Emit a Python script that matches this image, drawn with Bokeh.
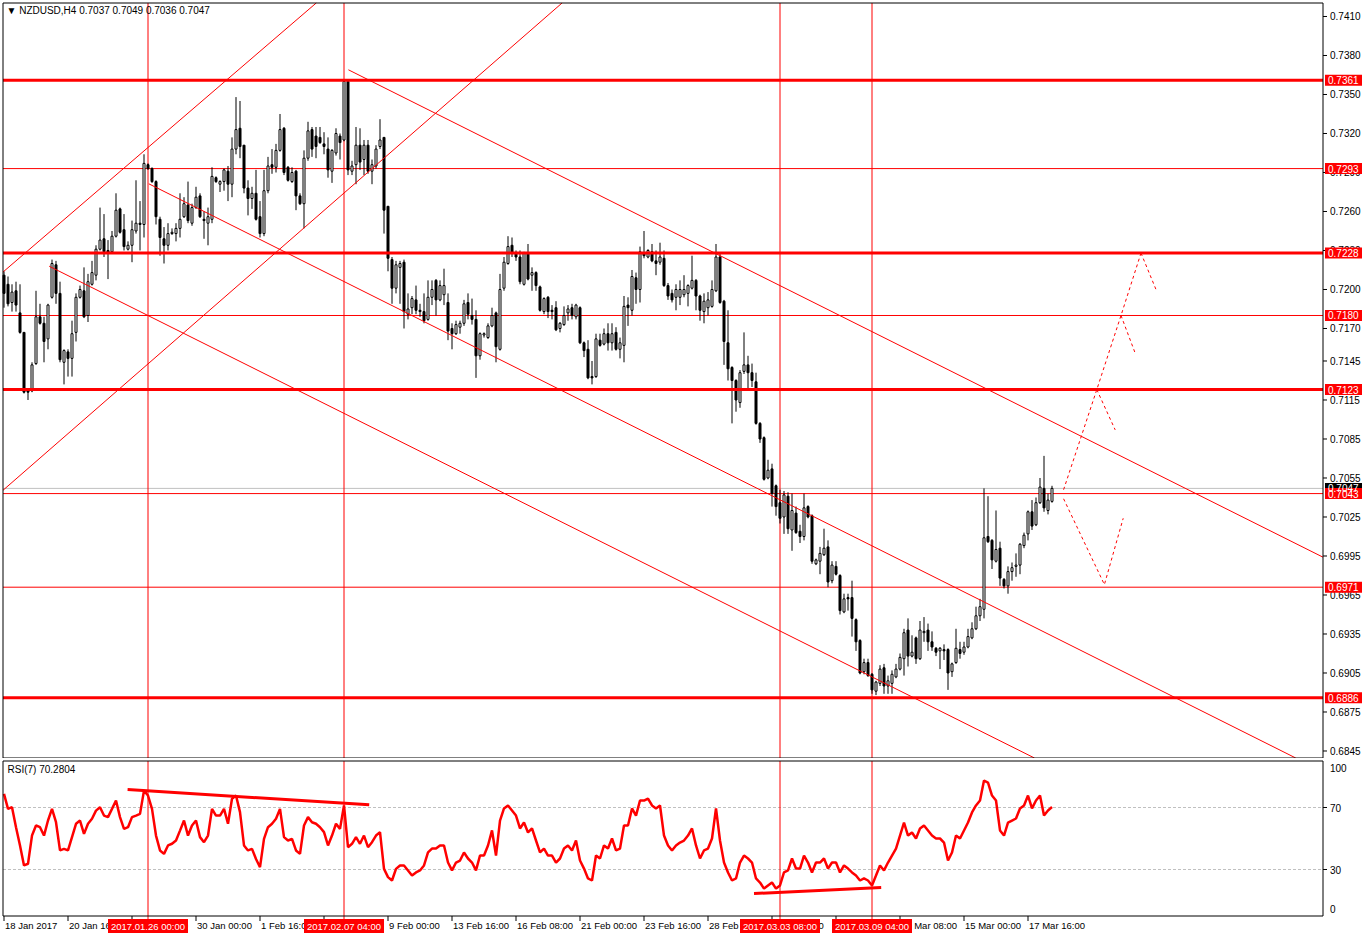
import numpy as np
from bokeh.plotting import figure
from bokeh.models import Range1d
from bokeh.layouts import column
from bokeh.embed import file_html
from bokeh.resources import INLINE
from bokeh.core.properties import value

# ---------------- data (NZDUSD H4, bar index 0 = 18 Jan 2017 00:00) ----------------
opens = [
0.7211,0.7204,0.7190,0.7199,0.7182,0.7167,0.7123,0.7122,0.7143,0.7179,
0.7174,0.7162,0.7194,0.7219,0.7197,0.7144,0.7152,0.7147,0.7167,0.7194,
0.7199,0.7180,0.7204,0.7211,0.7231,0.7239,0.7230,0.7229,0.7241,0.7262,
0.7246,0.7231,0.7234,0.7245,0.7251,0.7250,0.7296,0.7293,0.7283,0.7254,
0.7239,0.7234,0.7243,0.7243,0.7247,0.7256,0.7265,0.7251,0.7263,0.7272,
0.7254,0.7251,0.7254,0.7286,0.7281,0.7283,0.7291,0.7281,0.7308,0.7324,
0.7311,0.7278,0.7270,0.7274,0.7256,0.7243,0.7276,0.7296,0.7294,0.7307,
0.7324,0.7294,0.7283,0.7291,0.7272,0.7266,0.7301,0.7323,0.7318,0.7317,
0.7312,0.7308,0.7291,0.7305,0.7318,0.7315,0.7360,0.7291,0.7296,0.7311,
0.7300,0.7311,0.7291,0.7295,0.7310,0.7317,0.7264,0.7223,0.7201,0.7217,
0.7221,0.7181,0.7186,0.7192,0.7184,0.7183,0.7177,0.7194,0.7207,0.7192,
0.7196,0.7190,0.7170,0.7166,0.7171,0.7174,0.7190,0.7180,0.7177,0.7149,
0.7165,0.7163,0.7172,0.7182,0.7154,0.7201,0.7220,0.7234,0.7228,0.7225,
0.7204,0.7228,0.7211,0.7213,0.7202,0.7183,0.7194,0.7184,0.7186,0.7170,
0.7173,0.7182,0.7186,0.7179,0.7186,0.7159,0.7154,0.7133,0.7133,0.7161,
0.7158,0.7166,0.7159,0.7167,0.7154,0.7157,0.7188,0.7184,0.7209,0.7200,
0.7228,0.7225,0.7229,0.7222,0.7221,0.7224,0.7203,0.7197,0.7194,0.7194,
0.7196,0.7197,0.7201,0.7207,0.7195,0.7183,0.7186,0.7187,0.7199,0.7225,
0.7191,0.7159,0.7140,0.7130,0.7113,0.7137,0.7142,0.7136,0.7129,0.7097,
0.7086,0.7055,0.7062,0.7049,0.7036,0.7025,0.7041,0.7015,0.7028,0.7014,
0.7010,0.7033,0.7026,0.6989,0.6991,0.6996,0.7002,0.6976,0.6987,0.6980,
0.6952,0.6963,0.6963,0.6946,0.6930,0.6906,0.6913,0.6904,0.6891,0.6897,
0.6909,0.6895,0.6897,0.6902,0.6908,0.6916,0.6938,0.6918,0.6932,0.6916,
0.6936,0.6938,0.6929,0.6924,0.6922,0.6923,0.6923,0.6906,0.6913,0.6923,
0.6921,0.6925,0.6932,0.6939,0.6949,0.6954,0.7010,0.7007,0.6991,0.7001,
0.6977,0.6972,0.6983,0.6987,0.6988,0.7003,0.7012,0.7029,0.7019,0.7036,
0.7047,0.7030,0.7037]

highs = [
0.7214,0.7210,0.7204,0.7206,0.7204,0.7167,0.7124,0.7144,0.7199,0.7189,
0.7179,0.7189,0.7223,0.7222,0.7206,0.7154,0.7154,0.7176,0.7197,0.7203,
0.7217,0.7212,0.7222,0.7234,0.7263,0.7258,0.7238,0.7245,0.7274,0.7263,
0.7258,0.7237,0.7253,0.7284,0.7268,0.7304,0.7297,0.7294,0.7284,0.7256,
0.7248,0.7251,0.7247,0.7251,0.7274,0.7271,0.7283,0.7266,0.7279,0.7274,
0.7260,0.7263,0.7294,0.7287,0.7284,0.7293,0.7295,0.7317,0.7348,0.7345,
0.7311,0.7284,0.7279,0.7292,0.7268,0.7292,0.7302,0.7308,0.7312,0.7335,
0.7325,0.7295,0.7294,0.7292,0.7274,0.7307,0.7329,0.7325,0.7325,0.7325,
0.7321,0.7317,0.7308,0.7324,0.7320,0.7361,0.7361,0.7299,0.7325,0.7324,
0.7315,0.7315,0.7300,0.7311,0.7331,0.7317,0.7264,0.7225,0.7222,0.7222,
0.7223,0.7197,0.7195,0.7203,0.7189,0.7197,0.7207,0.7207,0.7208,0.7207,
0.7216,0.7197,0.7174,0.7176,0.7176,0.7192,0.7197,0.7193,0.7184,0.7167,
0.7167,0.7174,0.7186,0.7183,0.7212,0.7225,0.7241,0.7240,0.7230,0.7230,
0.7229,0.7235,0.7217,0.7214,0.7203,0.7194,0.7195,0.7188,0.7191,0.7175,
0.7187,0.7188,0.7189,0.7189,0.7187,0.7160,0.7161,0.7145,0.7166,0.7166,
0.7170,0.7174,0.7174,0.7171,0.7163,0.7195,0.7194,0.7215,0.7213,0.7233,
0.7245,0.7231,0.7235,0.7230,0.7236,0.7230,0.7205,0.7200,0.7204,0.7207,
0.7211,0.7204,0.7226,0.7208,0.7196,0.7197,0.7198,0.7207,0.7235,0.7228,
0.7192,0.7184,0.7141,0.7131,0.7138,0.7167,0.7149,0.7143,0.7136,0.7098,
0.7087,0.7069,0.7066,0.7050,0.7046,0.7045,0.7044,0.7043,0.7033,0.7019,
0.7043,0.7034,0.7027,0.6993,0.7002,0.7016,0.7007,0.6991,0.6991,0.6981,
0.6966,0.6966,0.6976,0.6947,0.6931,0.6916,0.6916,0.6905,0.6899,0.6911,
0.6912,0.6903,0.6907,0.6912,0.6920,0.6939,0.6947,0.6934,0.6933,0.6945,
0.6948,0.6943,0.6937,0.6925,0.6925,0.6927,0.6924,0.6913,0.6939,0.6929,
0.6929,0.6939,0.6944,0.6956,0.6962,0.7047,0.7041,0.7008,0.7030,0.7006,
0.6978,0.6987,0.6990,0.6997,0.7005,0.7013,0.7030,0.7038,0.7040,0.7055,
0.7072,0.7043,0.7049]

lows = [
0.7186,0.7187,0.7183,0.7183,0.7166,0.7120,0.7115,0.7121,0.7142,0.7173,
0.7144,0.7154,0.7193,0.7189,0.7144,0.7127,0.7133,0.7133,0.7160,0.7193,
0.7178,0.7175,0.7203,0.7207,0.7230,0.7225,0.7208,0.7228,0.7240,0.7243,
0.7230,0.7230,0.7221,0.7243,0.7230,0.7240,0.7292,0.7282,0.7250,0.7226,
0.7220,0.7230,0.7242,0.7237,0.7240,0.7255,0.7251,0.7249,0.7262,0.7255,
0.7239,0.7234,0.7251,0.7282,0.7275,0.7276,0.7268,0.7271,0.7304,0.7301,
0.7274,0.7257,0.7262,0.7253,0.7240,0.7241,0.7274,0.7289,0.7290,0.7306,
0.7288,0.7283,0.7282,0.7261,0.7265,0.7247,0.7299,0.7302,0.7301,0.7312,
0.7304,0.7286,0.7282,0.7303,0.7300,0.7314,0.7288,0.7288,0.7281,0.7292,
0.7288,0.7289,0.7281,0.7293,0.7308,0.7243,0.7214,0.7189,0.7197,0.7189,
0.7170,0.7177,0.7181,0.7181,0.7179,0.7174,0.7176,0.7188,0.7180,0.7191,
0.7188,0.7161,0.7154,0.7165,0.7166,0.7172,0.7177,0.7173,0.7132,0.7146,
0.7163,0.7162,0.7171,0.7144,0.7153,0.7199,0.7219,0.7225,0.7222,0.7204,
0.7203,0.7207,0.7199,0.7199,0.7183,0.7181,0.7178,0.7177,0.7168,0.7167,
0.7172,0.7176,0.7177,0.7177,0.7158,0.7148,0.7131,0.7127,0.7132,0.7156,
0.7157,0.7153,0.7153,0.7153,0.7147,0.7144,0.7172,0.7180,0.7189,0.7190,
0.7224,0.7224,0.7221,0.7211,0.7219,0.7202,0.7192,0.7190,0.7184,0.7188,
0.7194,0.7187,0.7200,0.7184,0.7176,0.7174,0.7180,0.7186,0.7198,0.7189,
0.7142,0.7130,0.7097,0.7106,0.7109,0.7135,0.7122,0.7125,0.7096,0.7082,
0.7053,0.7054,0.7033,0.7026,0.7020,0.7012,0.7012,0.6999,0.7012,0.7005,
0.7007,0.7024,0.6989,0.6988,0.6981,0.6995,0.6971,0.6974,0.6980,0.6950,
0.6951,0.6953,0.6933,0.6922,0.6904,0.6904,0.6902,0.6889,0.6888,0.6895,
0.6889,0.6889,0.6889,0.6901,0.6907,0.6903,0.6910,0.6917,0.6912,0.6915,
0.6929,0.6922,0.6922,0.6918,0.6908,0.6915,0.6892,0.6902,0.6912,0.6916,
0.6919,0.6924,0.6931,0.6938,0.6945,0.6947,0.7005,0.6985,0.6990,0.6972,
0.6970,0.6966,0.6976,0.6979,0.6981,0.7001,0.7007,0.7015,0.7018,0.7035,
0.7029,0.7027,0.7036]

closes = [
0.7197,0.7189,0.7198,0.7188,0.7167,0.7121,0.7121,0.7142,0.7179,0.7174,
0.7160,0.7188,0.7220,0.7197,0.7146,0.7153,0.7147,0.7166,0.7194,0.7200,
0.7179,0.7206,0.7213,0.7231,0.7238,0.7229,0.7228,0.7241,0.7261,0.7244,
0.7233,0.7234,0.7246,0.7251,0.7250,0.7297,0.7293,0.7283,0.7256,0.7240,
0.7234,0.7243,0.7244,0.7247,0.7254,0.7266,0.7253,0.7263,0.7271,0.7256,
0.7253,0.7256,0.7287,0.7283,0.7283,0.7292,0.7281,0.7308,0.7323,0.7310,
0.7278,0.7270,0.7274,0.7254,0.7243,0.7276,0.7295,0.7294,0.7307,0.7323,
0.7290,0.7284,0.7290,0.7272,0.7266,0.7301,0.7322,0.7308,0.7310,0.7313,
0.7310,0.7292,0.7307,0.7320,0.7313,0.7360,0.7292,0.7295,0.7311,0.7298,
0.7311,0.7291,0.7296,0.7308,0.7315,0.7261,0.7224,0.7201,0.7219,0.7220,
0.7183,0.7185,0.7193,0.7184,0.7183,0.7176,0.7194,0.7200,0.7192,0.7203,
0.7203,0.7168,0.7166,0.7173,0.7174,0.7189,0.7181,0.7177,0.7149,0.7166,
0.7166,0.7172,0.7180,0.7156,0.7200,0.7221,0.7233,0.7228,0.7225,0.7206,
0.7228,0.7208,0.7213,0.7203,0.7184,0.7193,0.7183,0.7183,0.7169,0.7174,
0.7180,0.7185,0.7180,0.7188,0.7159,0.7153,0.7132,0.7132,0.7162,0.7157,
0.7166,0.7159,0.7166,0.7154,0.7159,0.7187,0.7186,0.7210,0.7200,0.7229,
0.7226,0.7230,0.7222,0.7220,0.7225,0.7203,0.7195,0.7192,0.7200,0.7200,
0.7200,0.7203,0.7207,0.7195,0.7184,0.7191,0.7192,0.7200,0.7225,0.7190,
0.7160,0.7139,0.7130,0.7115,0.7136,0.7142,0.7136,0.7130,0.7097,0.7085,
0.7054,0.7061,0.7043,0.7033,0.7024,0.7042,0.7016,0.7030,0.7013,0.7010,
0.7032,0.7025,0.6991,0.6992,0.6997,0.7001,0.6975,0.6988,0.6981,0.6953,
0.6962,0.6962,0.6947,0.6929,0.6905,0.6913,0.6903,0.6892,0.6898,0.6908,
0.6895,0.6899,0.6904,0.6908,0.6917,0.6936,0.6918,0.6921,0.6916,0.6938,
0.6937,0.6929,0.6925,0.6921,0.6924,0.6922,0.6905,0.6912,0.6924,0.6920,
0.6925,0.6933,0.6939,0.6949,0.6956,0.7009,0.7006,0.6992,0.7000,0.6978,
0.6972,0.6983,0.6986,0.6988,0.7004,0.7011,0.7029,0.7018,0.7036,0.7048,
0.7032,0.7038,0.7047]

rsi7 = [
78.8,69.1,70.2,57.3,45.5,32.6,33.7,51.9,58.4,57.3,
51.9,61.6,69.1,60.5,42.3,43.3,42.3,50.9,59.5,61.6,
53.0,59.5,62.7,68.0,70.2,64.8,63.8,69.1,74.5,63.8,
56.2,57.3,63.8,64.8,65.9,80.9,77.7,69.1,51.9,42.3,
40.1,45.5,46.6,48.7,55.1,61.6,51.9,58.4,61.6,50.9,
47.6,51.9,69.1,64.8,64.8,69.1,59.5,75.6,77.7,67.0,
45.5,42.3,43.3,36.8,31.5,49.8,57.3,59.5,62.7,69.1,
50.9,48.7,49.8,42.3,40.1,58.4,63.8,60.5,59.5,57.3,
54.1,45.5,51.9,59.5,56.2,71.3,44.4,46.6,50.9,46.6,
51.9,44.4,47.6,51.9,54.1,30.4,25.1,22.9,30.4,32.6,
32.6,29.4,26.1,28.1,29.4,32.6,41.0,43.5,43.5,45.5,
45.5,34.5,29.4,34.5,35.8,41.0,37.1,34.5,29.4,39.0,
39.0,45.5,55.2,39.0,61.6,69.4,71.3,68.1,64.8,56.5,
60.3,53.9,56.5,48.7,41.0,43.5,39.0,39.0,34.5,37.1,
43.5,45.5,42.3,48.7,35.8,30.6,24.2,22.9,39.0,37.1,
45.5,43.5,50.0,42.3,43.5,58.4,58.4,69.4,64.8,74.5,
74.5,75.8,71.3,69.4,71.3,51.9,45.5,42.3,45.5,47.4,
48.7,51.9,56.5,45.5,37.1,42.3,43.5,50.0,69.4,48.7,
34.5,28.1,22.9,24.2,34.5,39.0,37.1,34.5,24.2,21.6,
17.7,19.7,21.6,17.7,19.7,28.1,29.4,37.1,30.6,30.6,
39.0,34.5,28.1,34.5,34.5,37.1,30.6,34.5,34.5,28.1,
32.6,30.6,28.1,26.1,22.9,24.2,22.9,19.7,26.1,32.6,
29.4,34.5,39.0,43.5,51.9,60.3,51.9,53.9,50.0,56.5,
58.4,55.2,51.9,50.0,50.0,47.4,35.8,41.0,51.9,50.0,
55.2,60.3,66.8,71.3,74.5,87.4,86.1,77.7,74.5,55.2,
51.9,60.3,61.6,62.9,69.4,71.3,77.7,69.4,74.5,77.7,
64.8,68.1,70.3]

price_ticks = [0.7410, 0.7380, 0.7350, 0.7320, 0.7290, 0.7260, 0.7230, 0.7200, 0.7170,
               0.7145, 0.7115, 0.7085, 0.7055, 0.7025, 0.6995, 0.6965, 0.6935, 0.6905,
               0.6875, 0.6845]
thick_levels = [0.7361, 0.7228, 0.7123, 0.6886]
thin_levels = [0.7293, 0.7180, 0.6971, 0.7043]
bid_price = 0.7047
vline_bars = [36, 85, 194, 217]
vline_labels = ["2017.01.26 00:00", "2017.02.07 04:00", "2017.03.03 08:00", "2017.03.09 04:00"]
xtick_bars = [0, 16, 32, 48, 64, 80, 96, 112, 128, 144, 160, 176, 192, 208, 224, 240, 256]
xtick_labels = ["18 Jan 2017", "20 Jan 16:00", "25 Jan 08:00", "30 Jan 00:00", "1 Feb 16:00",
                "6 Feb 08:00", "9 Feb 00:00", "13 Feb 16:00", "16 Feb 08:00", "21 Feb 00:00",
                "23 Feb 16:00", "28 Feb 08:00", "3 Mar 00:00", "7 Mar 16:00", "10 Mar 08:00",
                "15 Mar 00:00", "17 Mar 16:00"]
rsi_ticks = [70, 30]
rsi_tick_labels = ["100", "70", "30", "0"]
rsi_label_levels = [95.8, 70, 30, 4.2]
# trend lines: (bar0, price0, bar1, price1)
trend_lines = [
    (-0.75, 0.72121, 61.3, 0.73761),
    (25.5, 0.71146, 123.0, 0.73761),
    (86.1, 0.73690, 289.25, 0.70564),
    (36.2, 0.72813, 289.25, 0.68915),
    (11.3, 0.72179, 226.3, 0.68877),
]
trend_starts = [None, None, 86.1, 36.2, 11.3]
proj_up_bars = [264.9, 273.2, 279.25, 284.25]
proj_up_prices = [0.7046, 0.7123, 0.7180, 0.7228]
proj_pull = [(273.2, 0.7123, 277.8, 0.7092), (279.25, 0.7180, 282.8, 0.7151), (284.25, 0.7228, 288.0, 0.7200)]
proj_down_bars = [264.9, 275.1, 279.8]
proj_down_prices = [0.7039, 0.6973, 0.7024]
rsi_trend = [(30.9, 81.6, 91.3, 71.7), (187.5, 14.5, 219.3, 18.4)]
header_text = "\u25bc NZDUSD,H4  0.7037 0.7049 0.7036 0.7047"
rsi_header = "RSI(7) 70.2804"

# ---------------- geometry (bar units horizontally, 4 px per bar) ----------------
FONT = value("Liberation Sans")
FS = value("10px")
FSX = value("9.5px")
W, H1, H2 = 1364, 758, 178
PX = 4.0
X0 = -0.875                    # bar value at left edge of canvas
LEFT = -0.25                   # panel left border
RIGHT = 329.75                 # panel right border / price axis
PPU = 13000.0                  # pixels per price unit
YTOP = 0.74223                 # price at canvas top
P_TOP, P_BOT = YTOP - 2.5 / PPU, YTOP - 757.5 / PPU
RPU = 1.55                     # pixels per RSI unit
R_TOP = 100 + 2.5 / RPU        # RSI value at top of lower canvas

def bx(px):
    return px / PX

xr = Range1d(X0, X0 + W / PX)

def make_fig(h, yr):
    f = figure(width=W, height=h, x_range=xr, y_range=yr, x_axis_location=None,
               y_axis_location=None, toolbar_location=None, output_backend="svg",
               min_border=0, outline_line_color=None)
    f.grid.visible = False
    return f

p1 = make_fig(H1, Range1d(YTOP - H1 / PPU, YTOP))
p2 = make_fig(H2, Range1d(R_TOP - H2 / RPU, R_TOP))

o = np.array(opens); h = np.array(highs); l = np.array(lows); c = np.array(closes)
idx = np.arange(len(c))
up = c >= o

# ---- main panel ----
for lv in thin_levels:
    p1.line([LEFT, RIGHT], [lv, lv], line_color="red", line_width=1)
p1.line([LEFT, RIGHT], [bid_price, bid_price], line_color="#c0c0c0", line_width=1)
for vb in vline_bars:
    p1.line([vb, vb], [P_BOT, P_TOP], line_color="red", line_width=1)

p1.segment(x0=idx, y0=l, x1=idx, y1=h, line_color="black", line_width=1)
p1.vbar(x=idx[up], top=c[up], bottom=o[up], width=0.5, fill_color="white", line_color="black", line_width=1)
p1.vbar(x=idx[~up], top=o[~up], bottom=c[~up], width=0.5, fill_color="black", line_color="black", line_width=1)

for lv in thick_levels:
    p1.line([LEFT, RIGHT], [lv, lv], line_color="red", line_width=3)

def clip_line(b0, p0, b1, pp, start):
    s = (pp - p0) / (b1 - b0)
    a = LEFT if start is None else start
    pa = p0 + s * (a - b0)
    z = RIGHT
    pz = p0 + s * (z - b0)
    if pz > P_TOP:
        z = b0 + (P_TOP - p0) / s; pz = P_TOP
    elif pz < P_BOT:
        z = b0 + (P_BOT - p0) / s; pz = P_BOT
    if pa < P_BOT:
        a = b0 + (P_BOT - p0) / s; pa = P_BOT
    return [a, z], [pa, pz]

for (b0, p0, b1, pp), st in zip(trend_lines, trend_starts):
    xs, ys = clip_line(b0, p0, b1, pp, st)
    p1.line(xs, ys, line_color="red", line_width=1)

p1.line(proj_up_bars, proj_up_prices, line_color="red", line_width=1, line_dash="3 3")
for (a, pa, b, pb) in proj_pull:
    p1.line([a, b], [pa, pb], line_color="red", line_width=1, line_dash="3 3")
p1.line(proj_down_bars, proj_down_prices, line_color="red", line_width=1, line_dash="3 3")

# panel border
p1.line([LEFT, RIGHT, RIGHT, LEFT, LEFT], [P_TOP, P_TOP, P_BOT, P_BOT, P_TOP], line_color="black", line_width=1)

# price axis ticks + labels
p1.segment(x0=[RIGHT] * len(price_ticks), x1=[RIGHT + bx(4)] * len(price_ticks),
           y0=price_ticks, y1=price_ticks, line_color="black", line_width=1)
p1.text(x=[RIGHT + bx(7)] * len(price_ticks), y=price_ticks, text=["%.4f" % t for t in price_ticks],
        text_font=FONT, text_font_size=FS, text_color="black", text_align="left", text_baseline="middle")

BOX_H = 11 / PPU
box_levels = [bid_price] + thick_levels + thin_levels
box_colors = ["black"] + ["red"] * (len(thick_levels) + len(thin_levels))
p1.quad(left=[RIGHT + bx(2)] * len(box_levels), right=[RIGHT + bx(39)] * len(box_levels),
        bottom=[v - BOX_H / 2 for v in box_levels], top=[v + BOX_H / 2 for v in box_levels],
        fill_color=box_colors, line_color=None)
p1.text(x=[RIGHT + bx(5)] * len(box_levels), y=box_levels, text=["%.4f" % v for v in box_levels],
        text_font=FONT, text_font_size=FS, text_color="white", text_align="left", text_baseline="middle")

p1.text(x=[X0 + bx(6)], y=[YTOP - 10 / PPU], text=[header_text], text_font=FONT, text_font_size=FS,
        text_color="black", text_align="left", text_baseline="middle")

# ---- RSI panel ----
for lv in (70, 30):
    p2.line([LEFT, RIGHT], [lv, lv], line_color="#c0c0c0", line_width=1, line_dash="3 2")
for vb in vline_bars:
    p2.line([vb, vb], [-3 / RPU, 100], line_color="red", line_width=1)

p2.line(idx, rsi7, line_color="red", line_width=2.5)
for (a, va, b, vb_) in rsi_trend:
    p2.line([a, b], [va, vb_], line_color="red", line_width=3)

p2.line([LEFT, RIGHT, RIGHT, LEFT, LEFT], [100, 100, 0, 0, 100], line_color="black", line_width=1)

p2.segment(x0=[RIGHT] * len(rsi_ticks), x1=[RIGHT + bx(4)] * len(rsi_ticks), y0=rsi_ticks, y1=rsi_ticks,
           line_color="black", line_width=1)
p2.text(x=[RIGHT + bx(7)] * len(rsi_label_levels), y=rsi_label_levels, text=rsi_tick_labels,
        text_font=FONT, text_font_size=FS, text_color="black", text_align="left", text_baseline="middle")

p2.segment(x0=xtick_bars, x1=xtick_bars, y0=[0] * len(xtick_bars), y1=[-5 / RPU] * len(xtick_bars),
           line_color="black", line_width=1)
p2.text(x=[b + bx(1) for b in xtick_bars], y=[-3.5 / RPU] * len(xtick_bars), text=xtick_labels,
        text_font=FONT, text_font_size=FSX, text_color="black", text_align="left", text_baseline="top")

p2.quad(left=[b - bx(40) for b in vline_bars], right=[b + bx(40) for b in vline_bars],
        bottom=[-17 / RPU] * len(vline_bars), top=[-3 / RPU] * len(vline_bars),
        fill_color="red", line_color=None)
p2.text(x=vline_bars, y=[-10 / RPU] * len(vline_bars), text=vline_labels, text_font=FONT,
        text_font_size=FSX, text_color="white", text_align="center", text_baseline="middle")

p2.text(x=[X0 + bx(7)], y=[100 - 8 / RPU], text=[rsi_header], text_font=FONT, text_font_size=FS,
        text_color="black", text_align="left", text_baseline="middle")

layout = column(p1, p2, spacing=0)
open("out.html", "w").write(file_html(layout, INLINE))
